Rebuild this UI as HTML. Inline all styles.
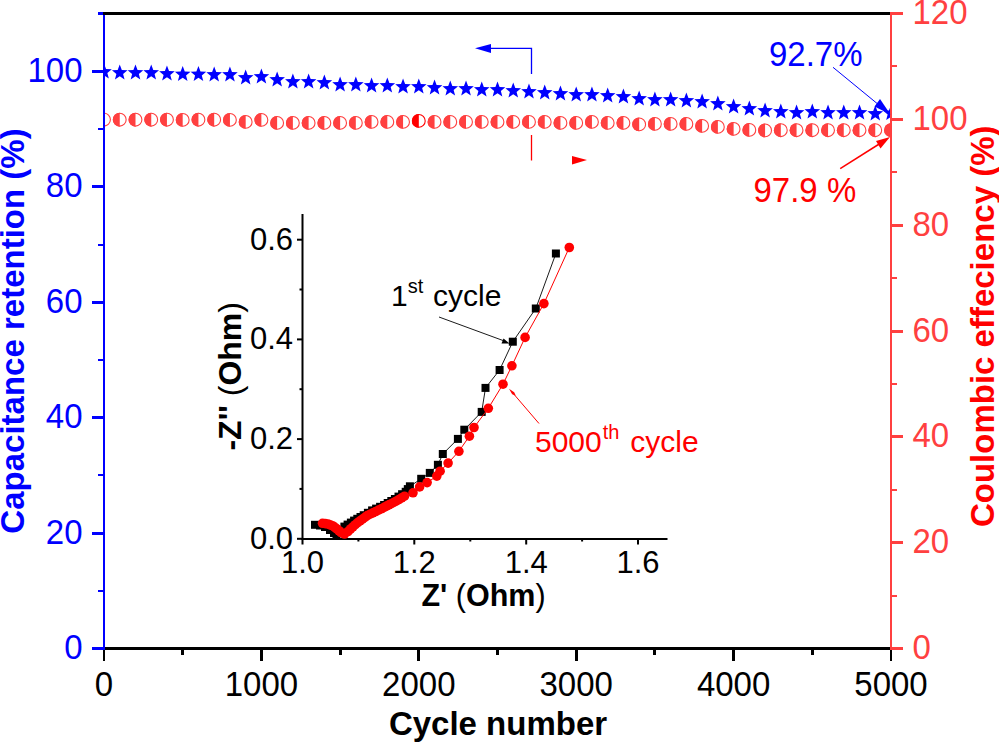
<!DOCTYPE html><html><head><meta charset="utf-8"><style>html,body{margin:0;padding:0;background:#fff;overflow:hidden}svg{display:block}text{font-family:"Liberation Sans",sans-serif}</style></head><body>
<svg width="999" height="742" viewBox="0 0 999 742">
<defs><clipPath id="pc"><rect x="105" y="15" width="785" height="632"/></clipPath>
<clipPath id="lh"><rect x="-8" y="-8" width="8" height="16"/></clipPath>
<polygon id="star" points="0.00,-8.20 2.07,-2.85 7.80,-2.53 3.35,1.09 4.82,6.63 0.00,3.53 -4.82,6.63 -3.35,1.09 -7.80,-2.53 -2.07,-2.85" fill="#0000ff"/>
</defs>
<rect width="999" height="742" fill="#fff"/>
<g clip-path="url(#pc)">
<g transform="translate(104.00,119.60)"><circle r="6.4" fill="#fff" stroke="#ff4040" stroke-width="1.1"/><path d="M0,-6.95 A6.95,6.95 0 0 0 0,6.95 Z" fill="#ff4040"/></g>
<g transform="translate(119.74,119.70)"><circle r="6.4" fill="#fff" stroke="#ff4040" stroke-width="1.1"/><path d="M0,-6.95 A6.95,6.95 0 0 0 0,6.95 Z" fill="#ff4040"/></g>
<g transform="translate(135.48,119.70)"><circle r="6.4" fill="#fff" stroke="#ff4040" stroke-width="1.1"/><path d="M0,-6.95 A6.95,6.95 0 0 0 0,6.95 Z" fill="#ff4040"/></g>
<g transform="translate(151.22,119.70)"><circle r="6.4" fill="#fff" stroke="#ff4040" stroke-width="1.1"/><path d="M0,-6.95 A6.95,6.95 0 0 0 0,6.95 Z" fill="#ff4040"/></g>
<g transform="translate(166.96,119.70)"><circle r="6.4" fill="#fff" stroke="#ff4040" stroke-width="1.1"/><path d="M0,-6.95 A6.95,6.95 0 0 0 0,6.95 Z" fill="#ff4040"/></g>
<g transform="translate(182.70,119.90)"><circle r="6.4" fill="#fff" stroke="#ff4040" stroke-width="1.1"/><path d="M0,-6.95 A6.95,6.95 0 0 0 0,6.95 Z" fill="#ff4040"/></g>
<g transform="translate(198.44,119.70)"><circle r="6.4" fill="#fff" stroke="#ff4040" stroke-width="1.1"/><path d="M0,-6.95 A6.95,6.95 0 0 0 0,6.95 Z" fill="#ff4040"/></g>
<g transform="translate(214.18,119.70)"><circle r="6.4" fill="#fff" stroke="#ff4040" stroke-width="1.1"/><path d="M0,-6.95 A6.95,6.95 0 0 0 0,6.95 Z" fill="#ff4040"/></g>
<g transform="translate(229.92,119.90)"><circle r="6.4" fill="#fff" stroke="#ff4040" stroke-width="1.1"/><path d="M0,-6.95 A6.95,6.95 0 0 0 0,6.95 Z" fill="#ff4040"/></g>
<g transform="translate(245.66,121.90)"><circle r="6.4" fill="#fff" stroke="#ff4040" stroke-width="1.1"/><path d="M0,-6.95 A6.95,6.95 0 0 0 0,6.95 Z" fill="#ff4040"/></g>
<g transform="translate(261.40,119.90)"><circle r="6.4" fill="#fff" stroke="#ff4040" stroke-width="1.1"/><path d="M0,-6.95 A6.95,6.95 0 0 0 0,6.95 Z" fill="#ff4040"/></g>
<g transform="translate(277.14,122.90)"><circle r="6.4" fill="#fff" stroke="#ff4040" stroke-width="1.1"/><path d="M0,-6.95 A6.95,6.95 0 0 0 0,6.95 Z" fill="#ff4040"/></g>
<g transform="translate(292.88,122.90)"><circle r="6.4" fill="#fff" stroke="#ff4040" stroke-width="1.1"/><path d="M0,-6.95 A6.95,6.95 0 0 0 0,6.95 Z" fill="#ff4040"/></g>
<g transform="translate(308.62,122.90)"><circle r="6.4" fill="#fff" stroke="#ff4040" stroke-width="1.1"/><path d="M0,-6.95 A6.95,6.95 0 0 0 0,6.95 Z" fill="#ff4040"/></g>
<g transform="translate(324.36,122.90)"><circle r="6.4" fill="#fff" stroke="#ff4040" stroke-width="1.1"/><path d="M0,-6.95 A6.95,6.95 0 0 0 0,6.95 Z" fill="#ff4040"/></g>
<g transform="translate(340.10,122.90)"><circle r="6.4" fill="#fff" stroke="#ff4040" stroke-width="1.1"/><path d="M0,-6.95 A6.95,6.95 0 0 0 0,6.95 Z" fill="#ff4040"/></g>
<g transform="translate(355.84,122.90)"><circle r="6.4" fill="#fff" stroke="#ff4040" stroke-width="1.1"/><path d="M0,-6.95 A6.95,6.95 0 0 0 0,6.95 Z" fill="#ff4040"/></g>
<g transform="translate(371.58,121.90)"><circle r="6.4" fill="#fff" stroke="#ff4040" stroke-width="1.1"/><path d="M0,-6.95 A6.95,6.95 0 0 0 0,6.95 Z" fill="#ff4040"/></g>
<g transform="translate(387.32,121.90)"><circle r="6.4" fill="#fff" stroke="#ff4040" stroke-width="1.1"/><path d="M0,-6.95 A6.95,6.95 0 0 0 0,6.95 Z" fill="#ff4040"/></g>
<g transform="translate(403.06,121.90)"><circle r="6.4" fill="#fff" stroke="#ff4040" stroke-width="1.1"/><path d="M0,-6.95 A6.95,6.95 0 0 0 0,6.95 Z" fill="#ff4040"/></g>
<g transform="translate(418.80,120.90)"><circle r="6.4" fill="#fff" stroke="#ff0000" stroke-width="1.1"/><path d="M0,-6.95 A6.95,6.95 0 0 0 0,6.95 Z" fill="#ff0000"/></g>
<g transform="translate(434.54,121.90)"><circle r="6.4" fill="#fff" stroke="#ff4040" stroke-width="1.1"/><path d="M0,-6.95 A6.95,6.95 0 0 0 0,6.95 Z" fill="#ff4040"/></g>
<g transform="translate(450.28,121.90)"><circle r="6.4" fill="#fff" stroke="#ff4040" stroke-width="1.1"/><path d="M0,-6.95 A6.95,6.95 0 0 0 0,6.95 Z" fill="#ff4040"/></g>
<g transform="translate(466.02,121.90)"><circle r="6.4" fill="#fff" stroke="#ff4040" stroke-width="1.1"/><path d="M0,-6.95 A6.95,6.95 0 0 0 0,6.95 Z" fill="#ff4040"/></g>
<g transform="translate(481.76,121.90)"><circle r="6.4" fill="#fff" stroke="#ff4040" stroke-width="1.1"/><path d="M0,-6.95 A6.95,6.95 0 0 0 0,6.95 Z" fill="#ff4040"/></g>
<g transform="translate(497.50,121.90)"><circle r="6.4" fill="#fff" stroke="#ff4040" stroke-width="1.1"/><path d="M0,-6.95 A6.95,6.95 0 0 0 0,6.95 Z" fill="#ff4040"/></g>
<g transform="translate(513.24,121.90)"><circle r="6.4" fill="#fff" stroke="#ff4040" stroke-width="1.1"/><path d="M0,-6.95 A6.95,6.95 0 0 0 0,6.95 Z" fill="#ff4040"/></g>
<g transform="translate(528.98,121.90)"><circle r="6.4" fill="#fff" stroke="#ff4040" stroke-width="1.1"/><path d="M0,-6.95 A6.95,6.95 0 0 0 0,6.95 Z" fill="#ff4040"/></g>
<g transform="translate(544.72,121.90)"><circle r="6.4" fill="#fff" stroke="#ff4040" stroke-width="1.1"/><path d="M0,-6.95 A6.95,6.95 0 0 0 0,6.95 Z" fill="#ff4040"/></g>
<g transform="translate(560.46,122.90)"><circle r="6.4" fill="#fff" stroke="#ff4040" stroke-width="1.1"/><path d="M0,-6.95 A6.95,6.95 0 0 0 0,6.95 Z" fill="#ff4040"/></g>
<g transform="translate(576.20,122.90)"><circle r="6.4" fill="#fff" stroke="#ff4040" stroke-width="1.1"/><path d="M0,-6.95 A6.95,6.95 0 0 0 0,6.95 Z" fill="#ff4040"/></g>
<g transform="translate(591.94,121.90)"><circle r="6.4" fill="#fff" stroke="#ff4040" stroke-width="1.1"/><path d="M0,-6.95 A6.95,6.95 0 0 0 0,6.95 Z" fill="#ff4040"/></g>
<g transform="translate(607.68,122.90)"><circle r="6.4" fill="#fff" stroke="#ff4040" stroke-width="1.1"/><path d="M0,-6.95 A6.95,6.95 0 0 0 0,6.95 Z" fill="#ff4040"/></g>
<g transform="translate(623.42,122.90)"><circle r="6.4" fill="#fff" stroke="#ff4040" stroke-width="1.1"/><path d="M0,-6.95 A6.95,6.95 0 0 0 0,6.95 Z" fill="#ff4040"/></g>
<g transform="translate(639.16,124.40)"><circle r="6.4" fill="#fff" stroke="#ff4040" stroke-width="1.1"/><path d="M0,-6.95 A6.95,6.95 0 0 0 0,6.95 Z" fill="#ff4040"/></g>
<g transform="translate(654.90,123.90)"><circle r="6.4" fill="#fff" stroke="#ff4040" stroke-width="1.1"/><path d="M0,-6.95 A6.95,6.95 0 0 0 0,6.95 Z" fill="#ff4040"/></g>
<g transform="translate(670.64,123.90)"><circle r="6.4" fill="#fff" stroke="#ff4040" stroke-width="1.1"/><path d="M0,-6.95 A6.95,6.95 0 0 0 0,6.95 Z" fill="#ff4040"/></g>
<g transform="translate(686.38,123.90)"><circle r="6.4" fill="#fff" stroke="#ff4040" stroke-width="1.1"/><path d="M0,-6.95 A6.95,6.95 0 0 0 0,6.95 Z" fill="#ff4040"/></g>
<g transform="translate(702.12,125.90)"><circle r="6.4" fill="#fff" stroke="#ff4040" stroke-width="1.1"/><path d="M0,-6.95 A6.95,6.95 0 0 0 0,6.95 Z" fill="#ff4040"/></g>
<g transform="translate(717.86,126.90)"><circle r="6.4" fill="#fff" stroke="#ff4040" stroke-width="1.1"/><path d="M0,-6.95 A6.95,6.95 0 0 0 0,6.95 Z" fill="#ff4040"/></g>
<g transform="translate(733.60,128.90)"><circle r="6.4" fill="#fff" stroke="#ff4040" stroke-width="1.1"/><path d="M0,-6.95 A6.95,6.95 0 0 0 0,6.95 Z" fill="#ff4040"/></g>
<g transform="translate(749.34,129.90)"><circle r="6.4" fill="#fff" stroke="#ff4040" stroke-width="1.1"/><path d="M0,-6.95 A6.95,6.95 0 0 0 0,6.95 Z" fill="#ff4040"/></g>
<g transform="translate(765.08,130.40)"><circle r="6.4" fill="#fff" stroke="#ff4040" stroke-width="1.1"/><path d="M0,-6.95 A6.95,6.95 0 0 0 0,6.95 Z" fill="#ff4040"/></g>
<g transform="translate(780.82,130.20)"><circle r="6.4" fill="#fff" stroke="#ff4040" stroke-width="1.1"/><path d="M0,-6.95 A6.95,6.95 0 0 0 0,6.95 Z" fill="#ff4040"/></g>
<g transform="translate(796.56,130.20)"><circle r="6.4" fill="#fff" stroke="#ff4040" stroke-width="1.1"/><path d="M0,-6.95 A6.95,6.95 0 0 0 0,6.95 Z" fill="#ff4040"/></g>
<g transform="translate(812.30,130.20)"><circle r="6.4" fill="#fff" stroke="#ff4040" stroke-width="1.1"/><path d="M0,-6.95 A6.95,6.95 0 0 0 0,6.95 Z" fill="#ff4040"/></g>
<g transform="translate(828.04,130.20)"><circle r="6.4" fill="#fff" stroke="#ff4040" stroke-width="1.1"/><path d="M0,-6.95 A6.95,6.95 0 0 0 0,6.95 Z" fill="#ff4040"/></g>
<g transform="translate(843.78,130.20)"><circle r="6.4" fill="#fff" stroke="#ff4040" stroke-width="1.1"/><path d="M0,-6.95 A6.95,6.95 0 0 0 0,6.95 Z" fill="#ff4040"/></g>
<g transform="translate(859.52,130.20)"><circle r="6.4" fill="#fff" stroke="#ff4040" stroke-width="1.1"/><path d="M0,-6.95 A6.95,6.95 0 0 0 0,6.95 Z" fill="#ff4040"/></g>
<g transform="translate(875.26,130.20)"><circle r="6.4" fill="#fff" stroke="#ff4040" stroke-width="1.1"/><path d="M0,-6.95 A6.95,6.95 0 0 0 0,6.95 Z" fill="#ff4040"/></g>
<g transform="translate(891.00,130.20)"><circle r="6.4" fill="#fff" stroke="#ff4040" stroke-width="1.1"/><path d="M0,-6.95 A6.95,6.95 0 0 0 0,6.95 Z" fill="#ff4040"/></g>
<use href="#star" x="104.00" y="71.80"/>
<use href="#star" x="119.74" y="72.80"/>
<use href="#star" x="135.48" y="72.80"/>
<use href="#star" x="151.22" y="72.80"/>
<use href="#star" x="166.96" y="73.80"/>
<use href="#star" x="182.70" y="74.30"/>
<use href="#star" x="198.44" y="74.30"/>
<use href="#star" x="214.18" y="74.80"/>
<use href="#star" x="229.92" y="74.80"/>
<use href="#star" x="245.66" y="77.80"/>
<use href="#star" x="261.40" y="76.80"/>
<use href="#star" x="277.14" y="79.80"/>
<use href="#star" x="292.88" y="81.80"/>
<use href="#star" x="308.62" y="81.80"/>
<use href="#star" x="324.36" y="82.80"/>
<use href="#star" x="340.10" y="84.80"/>
<use href="#star" x="355.84" y="84.80"/>
<use href="#star" x="371.58" y="85.80"/>
<use href="#star" x="387.32" y="85.80"/>
<use href="#star" x="403.06" y="86.80"/>
<use href="#star" x="418.80" y="86.80"/>
<use href="#star" x="434.54" y="87.80"/>
<use href="#star" x="450.28" y="88.80"/>
<use href="#star" x="466.02" y="88.80"/>
<use href="#star" x="481.76" y="89.80"/>
<use href="#star" x="497.50" y="89.80"/>
<use href="#star" x="513.24" y="90.80"/>
<use href="#star" x="528.98" y="91.80"/>
<use href="#star" x="544.72" y="92.80"/>
<use href="#star" x="560.46" y="93.80"/>
<use href="#star" x="576.20" y="94.80"/>
<use href="#star" x="591.94" y="94.80"/>
<use href="#star" x="607.68" y="95.80"/>
<use href="#star" x="623.42" y="96.80"/>
<use href="#star" x="639.16" y="98.80"/>
<use href="#star" x="654.90" y="99.80"/>
<use href="#star" x="670.64" y="99.80"/>
<use href="#star" x="686.38" y="100.80"/>
<use href="#star" x="702.12" y="101.80"/>
<use href="#star" x="717.86" y="103.80"/>
<use href="#star" x="733.60" y="106.80"/>
<use href="#star" x="749.34" y="108.80"/>
<use href="#star" x="765.08" y="110.80"/>
<use href="#star" x="780.82" y="111.80"/>
<use href="#star" x="796.56" y="112.80"/>
<use href="#star" x="812.30" y="111.80"/>
<use href="#star" x="828.04" y="112.80"/>
<use href="#star" x="843.78" y="112.80"/>
<use href="#star" x="859.52" y="112.80"/>
<use href="#star" x="875.26" y="113.80"/>
<use href="#star" x="891.00" y="113.30"/>
</g>
<rect x="103" y="12" width="788" height="3" fill="#000000"/>
<rect x="103" y="647" width="788" height="3" fill="#000000"/>
<rect x="103" y="15" width="2" height="635" fill="#0000ff"/>
<rect x="890" y="15" width="2" height="635" fill="#ff4040"/>
<rect x="92" y="647" width="13" height="3" fill="#0000ff"/>
<text transform="translate(82.5,659.0) scale(1,1.045)" font-size="33" fill="#0000ff" text-anchor="end">0</text>
<rect x="98" y="590" width="5" height="2" fill="#0000ff"/>
<rect x="92" y="532" width="11" height="3" fill="#0000ff"/>
<text transform="translate(82.5,543.6) scale(1,1.045)" font-size="33" fill="#0000ff" text-anchor="end">20</text>
<rect x="98" y="474" width="5" height="2" fill="#0000ff"/>
<rect x="92" y="416" width="11" height="3" fill="#0000ff"/>
<text transform="translate(82.5,428.2) scale(1,1.045)" font-size="33" fill="#0000ff" text-anchor="end">40</text>
<rect x="98" y="359" width="5" height="2" fill="#0000ff"/>
<rect x="92" y="301" width="11" height="3" fill="#0000ff"/>
<text transform="translate(82.5,312.8) scale(1,1.045)" font-size="33" fill="#0000ff" text-anchor="end">60</text>
<rect x="98" y="244" width="5" height="2" fill="#0000ff"/>
<rect x="92" y="185" width="11" height="3" fill="#0000ff"/>
<text transform="translate(82.5,197.4) scale(1,1.045)" font-size="33" fill="#0000ff" text-anchor="end">80</text>
<rect x="98" y="128" width="5" height="2" fill="#0000ff"/>
<rect x="92" y="70" width="11" height="3" fill="#0000ff"/>
<text transform="translate(82.5,82.0) scale(1,1.045)" font-size="33" fill="#0000ff" text-anchor="end">100</text>
<rect x="98" y="12" width="5" height="3" fill="#0000ff"/>
<rect x="890" y="647" width="13" height="3" fill="#ff4040"/>
<text transform="translate(912.5,659.0) scale(1,1.045)" font-size="33" fill="#ff4040">0</text>
<rect x="891" y="595" width="6" height="2" fill="#ff4040"/>
<rect x="890" y="541" width="13" height="3" fill="#ff4040"/>
<text transform="translate(912.5,553.2) scale(1,1.045)" font-size="33" fill="#ff4040">20</text>
<rect x="891" y="489" width="6" height="2" fill="#ff4040"/>
<rect x="890" y="435" width="13" height="3" fill="#ff4040"/>
<text transform="translate(912.5,447.3) scale(1,1.045)" font-size="33" fill="#ff4040">40</text>
<rect x="891" y="383" width="6" height="2" fill="#ff4040"/>
<rect x="890" y="330" width="13" height="3" fill="#ff4040"/>
<text transform="translate(912.5,341.5) scale(1,1.045)" font-size="33" fill="#ff4040">60</text>
<rect x="891" y="277" width="6" height="2" fill="#ff4040"/>
<rect x="890" y="224" width="13" height="3" fill="#ff4040"/>
<text transform="translate(912.5,235.7) scale(1,1.045)" font-size="33" fill="#ff4040">80</text>
<rect x="891" y="171" width="6" height="2" fill="#ff4040"/>
<rect x="890" y="118" width="13" height="3" fill="#ff4040"/>
<text transform="translate(912.5,129.8) scale(1,1.045)" font-size="33" fill="#ff4040">100</text>
<rect x="891" y="65" width="6" height="2" fill="#ff4040"/>
<rect x="890" y="12" width="13" height="3" fill="#ff4040"/>
<text transform="translate(912.5,24.0) scale(1,1.045)" font-size="33" fill="#ff4040">120</text>
<rect x="103" y="650" width="2" height="11" fill="#000000"/>
<text transform="translate(104.0,695.5) scale(1,1.045)" font-size="33" fill="#000000" text-anchor="middle">0</text>
<rect x="181" y="650" width="3" height="5" fill="#000000"/>
<rect x="260" y="650" width="3" height="11" fill="#000000"/>
<text transform="translate(261.4,695.5) scale(1,1.045)" font-size="33" fill="#000000" text-anchor="middle">1000</text>
<rect x="339" y="650" width="3" height="5" fill="#000000"/>
<rect x="417" y="650" width="3" height="11" fill="#000000"/>
<text transform="translate(418.8,695.5) scale(1,1.045)" font-size="33" fill="#000000" text-anchor="middle">2000</text>
<rect x="496" y="650" width="3" height="5" fill="#000000"/>
<rect x="575" y="650" width="3" height="11" fill="#000000"/>
<text transform="translate(576.2,695.5) scale(1,1.045)" font-size="33" fill="#000000" text-anchor="middle">3000</text>
<rect x="653" y="650" width="3" height="5" fill="#000000"/>
<rect x="732" y="650" width="3" height="11" fill="#000000"/>
<text transform="translate(733.6,695.5) scale(1,1.045)" font-size="33" fill="#000000" text-anchor="middle">4000</text>
<rect x="811" y="650" width="3" height="5" fill="#000000"/>
<rect x="890" y="650" width="2" height="11" fill="#000000"/>
<text transform="translate(891.0,695.5) scale(1,1.045)" font-size="33" fill="#000000" text-anchor="middle">5000</text>
<text x="498" y="735" font-size="33" font-weight="bold" fill="#000000" text-anchor="middle">Cycle number</text>
<text transform="translate(24,331) rotate(-90)" font-size="33" font-weight="bold" fill="#0000ff" text-anchor="middle">Capacitance retention (%)</text>
<text transform="translate(993.5,326.3) rotate(-90)" font-size="33" font-weight="bold" fill="#ff0000" text-anchor="middle">Coulombic effeciency (%)</text>
<text transform="translate(769,66) scale(1,1.045)" font-size="33" fill="#0000ff">92.7%</text>
<line x1="833" y1="67.3" x2="882" y2="107.5" stroke="#0000ff" stroke-width="1"/>
<polygon points="890.5,114.5 874.5,106.5 880,99" fill="#0000ff"/>
<text transform="translate(753.5,202) scale(1,1.045)" font-size="33" fill="#ff0000">97.9 %</text>
<line x1="840.2" y1="168.7" x2="880" y2="143.5" stroke="#ff0000" stroke-width="1.5"/>
<polygon points="890,137 876,141 880.5,148.5" fill="#ff0000"/>
<polyline points="531.5,74 531.5,48.3 490,48.3" fill="none" stroke="#0000ff" stroke-width="1.3"/>
<polygon points="475,48.3 491,44 491,53" fill="#0000ff"/>
<line x1="531.5" y1="135" x2="531.5" y2="160.5" stroke="#ff0000" stroke-width="1.3"/>
<polygon points="587,160 572,156 572,164.5" fill="#ff0000"/>
<rect x="301.5" y="214" width="2" height="326" fill="#000000"/>
<rect x="301.5" y="538" width="366" height="2" fill="#000000"/>
<rect x="297" y="537.8" width="5" height="2" fill="#000000"/>
<text x="293" y="548.8" font-size="31" fill="#000000" text-anchor="end">0.0</text>
<rect x="299.5" y="487.9" width="3" height="2" fill="#000000"/>
<rect x="297" y="438.1" width="5" height="2" fill="#000000"/>
<text x="293" y="449.1" font-size="31" fill="#000000" text-anchor="end">0.2</text>
<rect x="299.5" y="388.2" width="3" height="2" fill="#000000"/>
<rect x="297" y="338.4" width="5" height="2" fill="#000000"/>
<text x="293" y="349.4" font-size="31" fill="#000000" text-anchor="end">0.4</text>
<rect x="299.5" y="288.5" width="3" height="2" fill="#000000"/>
<rect x="297" y="238.7" width="5" height="2" fill="#000000"/>
<text x="293" y="249.7" font-size="31" fill="#000000" text-anchor="end">0.6</text>
<rect x="301.5" y="539" width="2" height="5.5" fill="#000000"/>
<text x="302.5" y="573" font-size="31" fill="#000000" text-anchor="middle">1.0</text>
<rect x="357.4" y="539" width="2" height="2.5" fill="#000000"/>
<rect x="413.3" y="539" width="2" height="5.5" fill="#000000"/>
<text x="414.3" y="573" font-size="31" fill="#000000" text-anchor="middle">1.2</text>
<rect x="469.3" y="539" width="2" height="2.5" fill="#000000"/>
<rect x="525.2" y="539" width="2" height="5.5" fill="#000000"/>
<text x="526.2" y="573" font-size="31" fill="#000000" text-anchor="middle">1.4</text>
<rect x="581.1" y="539" width="2" height="2.5" fill="#000000"/>
<rect x="637.0" y="539" width="2" height="5.5" fill="#000000"/>
<text x="638.0" y="573" font-size="31" fill="#000000" text-anchor="middle">1.6</text>
<text x="483.5" y="606" font-size="30.5" font-weight="bold" fill="#000000" text-anchor="middle">Z' <tspan font-weight="normal">(</tspan>Ohm<tspan font-weight="normal">)</tspan></text>
<text transform="translate(241,376.3) rotate(-90)" font-size="32" font-weight="bold" fill="#000000" text-anchor="middle">-Z'' <tspan font-weight="normal">(</tspan>Ohm<tspan font-weight="normal">)</tspan></text>
<polyline points="315,524.8 320.0,525.5 325.0,527.0 330.0,530.0 334.0,533.0 336.5,534.0 340.5,530.0 344.4,526.6 347.63,524.6 350.87,522.6 354.1,520.6 357.3,518.8 360.5,517.0 363.7,515.2 367.9,512.8 372.1,510.4 376.1,508.6 380.1,506.8 384.1,505.0 387.7,503.0 391.3,501.0 394.9,499.0 398.5,496.6 402.1,494.2 405.7,491.8 407.8,489.05 409.9,486.3 421.2,478.8 429.8,472.9 437.9,464.8 442.8,454 457.9,438.9 464.3,429.7 481.7,411.9 485.5,387.9 499.6,370 512.8,341.7 535.8,308.5 555.9,253.5" fill="none" stroke="#000000" stroke-width="0.9"/>
<rect x="311.0" y="520.8" width="8" height="8" fill="#000000"/>
<rect x="316.0" y="521.5" width="8" height="8" fill="#000000"/>
<rect x="321.0" y="523.0" width="8" height="8" fill="#000000"/>
<rect x="326.0" y="526.0" width="8" height="8" fill="#000000"/>
<rect x="330.0" y="529.0" width="8" height="8" fill="#000000"/>
<rect x="332.5" y="530.0" width="8" height="8" fill="#000000"/>
<rect x="336.5" y="526.0" width="8" height="8" fill="#000000"/>
<rect x="340.4" y="522.6" width="8" height="8" fill="#000000"/>
<rect x="343.6" y="520.6" width="8" height="8" fill="#000000"/>
<rect x="346.9" y="518.6" width="8" height="8" fill="#000000"/>
<rect x="350.1" y="516.6" width="8" height="8" fill="#000000"/>
<rect x="353.3" y="514.8" width="8" height="8" fill="#000000"/>
<rect x="356.5" y="513.0" width="8" height="8" fill="#000000"/>
<rect x="359.7" y="511.2" width="8" height="8" fill="#000000"/>
<rect x="363.9" y="508.8" width="8" height="8" fill="#000000"/>
<rect x="368.1" y="506.4" width="8" height="8" fill="#000000"/>
<rect x="372.1" y="504.6" width="8" height="8" fill="#000000"/>
<rect x="376.1" y="502.8" width="8" height="8" fill="#000000"/>
<rect x="380.1" y="501.0" width="8" height="8" fill="#000000"/>
<rect x="383.7" y="499.0" width="8" height="8" fill="#000000"/>
<rect x="387.3" y="497.0" width="8" height="8" fill="#000000"/>
<rect x="390.9" y="495.0" width="8" height="8" fill="#000000"/>
<rect x="394.5" y="492.6" width="8" height="8" fill="#000000"/>
<rect x="398.1" y="490.2" width="8" height="8" fill="#000000"/>
<rect x="401.7" y="487.8" width="8" height="8" fill="#000000"/>
<rect x="403.8" y="485.1" width="8" height="8" fill="#000000"/>
<rect x="405.9" y="482.3" width="8" height="8" fill="#000000"/>
<rect x="417.2" y="474.8" width="8" height="8" fill="#000000"/>
<rect x="425.8" y="468.9" width="8" height="8" fill="#000000"/>
<rect x="433.9" y="460.8" width="8" height="8" fill="#000000"/>
<rect x="438.8" y="450.0" width="8" height="8" fill="#000000"/>
<rect x="453.9" y="434.9" width="8" height="8" fill="#000000"/>
<rect x="460.3" y="425.7" width="8" height="8" fill="#000000"/>
<rect x="477.7" y="407.9" width="8" height="8" fill="#000000"/>
<rect x="481.5" y="383.9" width="8" height="8" fill="#000000"/>
<rect x="495.6" y="366.0" width="8" height="8" fill="#000000"/>
<rect x="508.8" y="337.7" width="8" height="8" fill="#000000"/>
<rect x="531.8" y="304.5" width="8" height="8" fill="#000000"/>
<rect x="551.9" y="249.5" width="8" height="8" fill="#000000"/>
<polyline points="322.5,523.3 325.25,523.65 328.0,524.0 330.5,525.0 333.0,526.0 335.0,527.5 337.0,529.0 339.0,530.75 341.0,532.5 344.5,534.0 348.0,531.5 350.5,529.0 352.9,526.87 355.3,524.73 357.7,522.6 360.1,520.85 362.5,519.1 364.9,517.35 367.3,515.6 370.1,514.23 372.9,512.87 375.7,511.5 378.5,510.13 381.3,508.77 384.1,507.4 386.5,506.16 388.9,504.92 391.3,503.68 393.7,502.44 396.1,501.2 398.9,499.53 401.7,497.87 404.5,496.2 413,492.8 419.6,486.9 427.1,482.6 436.8,476.1 440.1,471.2 448.1,463.1 458.9,451.3 469.4,436.2 474,427.5 488.3,408.3 503,384.2 511.9,365.8 525.1,337.4 543.9,303.6 569.3,247.5" fill="none" stroke="#ff0000" stroke-width="1"/>
<circle cx="322.5" cy="523.3" r="4.8" fill="#ff0000"/>
<circle cx="325.25" cy="523.65" r="4.8" fill="#ff0000"/>
<circle cx="328.0" cy="524.0" r="4.8" fill="#ff0000"/>
<circle cx="330.5" cy="525.0" r="4.8" fill="#ff0000"/>
<circle cx="333.0" cy="526.0" r="4.8" fill="#ff0000"/>
<circle cx="335.0" cy="527.5" r="4.8" fill="#ff0000"/>
<circle cx="337.0" cy="529.0" r="4.8" fill="#ff0000"/>
<circle cx="339.0" cy="530.75" r="4.8" fill="#ff0000"/>
<circle cx="341.0" cy="532.5" r="4.8" fill="#ff0000"/>
<circle cx="344.5" cy="534.0" r="4.8" fill="#ff0000"/>
<circle cx="348.0" cy="531.5" r="4.8" fill="#ff0000"/>
<circle cx="350.5" cy="529.0" r="4.8" fill="#ff0000"/>
<circle cx="352.9" cy="526.87" r="4.8" fill="#ff0000"/>
<circle cx="355.3" cy="524.73" r="4.8" fill="#ff0000"/>
<circle cx="357.7" cy="522.6" r="4.8" fill="#ff0000"/>
<circle cx="360.1" cy="520.85" r="4.8" fill="#ff0000"/>
<circle cx="362.5" cy="519.1" r="4.8" fill="#ff0000"/>
<circle cx="364.9" cy="517.35" r="4.8" fill="#ff0000"/>
<circle cx="367.3" cy="515.6" r="4.8" fill="#ff0000"/>
<circle cx="370.1" cy="514.23" r="4.8" fill="#ff0000"/>
<circle cx="372.9" cy="512.87" r="4.8" fill="#ff0000"/>
<circle cx="375.7" cy="511.5" r="4.8" fill="#ff0000"/>
<circle cx="378.5" cy="510.13" r="4.8" fill="#ff0000"/>
<circle cx="381.3" cy="508.77" r="4.8" fill="#ff0000"/>
<circle cx="384.1" cy="507.4" r="4.8" fill="#ff0000"/>
<circle cx="386.5" cy="506.16" r="4.8" fill="#ff0000"/>
<circle cx="388.9" cy="504.92" r="4.8" fill="#ff0000"/>
<circle cx="391.3" cy="503.68" r="4.8" fill="#ff0000"/>
<circle cx="393.7" cy="502.44" r="4.8" fill="#ff0000"/>
<circle cx="396.1" cy="501.2" r="4.8" fill="#ff0000"/>
<circle cx="398.9" cy="499.53" r="4.8" fill="#ff0000"/>
<circle cx="401.7" cy="497.87" r="4.8" fill="#ff0000"/>
<circle cx="404.5" cy="496.2" r="4.8" fill="#ff0000"/>
<circle cx="413" cy="492.8" r="4.8" fill="#ff0000"/>
<circle cx="419.6" cy="486.9" r="4.8" fill="#ff0000"/>
<circle cx="427.1" cy="482.6" r="4.8" fill="#ff0000"/>
<circle cx="436.8" cy="476.1" r="4.8" fill="#ff0000"/>
<circle cx="440.1" cy="471.2" r="4.8" fill="#ff0000"/>
<circle cx="448.1" cy="463.1" r="4.8" fill="#ff0000"/>
<circle cx="458.9" cy="451.3" r="4.8" fill="#ff0000"/>
<circle cx="469.4" cy="436.2" r="4.8" fill="#ff0000"/>
<circle cx="474" cy="427.5" r="4.8" fill="#ff0000"/>
<circle cx="488.3" cy="408.3" r="4.8" fill="#ff0000"/>
<circle cx="503" cy="384.2" r="4.8" fill="#ff0000"/>
<circle cx="511.9" cy="365.8" r="4.8" fill="#ff0000"/>
<circle cx="525.1" cy="337.4" r="4.8" fill="#ff0000"/>
<circle cx="543.9" cy="303.6" r="4.8" fill="#ff0000"/>
<circle cx="569.3" cy="247.5" r="4.8" fill="#ff0000"/>
<text x="391" y="305.7" font-size="30" fill="#000000">1<tspan font-size="20" dy="-12.5">st</tspan><tspan dx="1.5" dy="12.5"> cycle</tspan></text>
<line x1="439" y1="317" x2="503" y2="340.5" stroke="#000000" stroke-width="0.9"/>
<polygon points="509.5,343.5 501.5,343.5 503.5,338.5" fill="#000000"/>
<text x="535" y="451.5" font-size="30" fill="#ff0000">5000<tspan font-size="20" dx="1" dy="-12.5">th</tspan><tspan dx="2.5" dy="12.5"> cycle</tspan></text>
<line x1="539" y1="423.5" x2="512" y2="392" stroke="#ff0000" stroke-width="1"/>
<polygon points="509,388.8 514.2,392.2 515.8,395.8 512.2,394.2" fill="#ff0000"/>
</svg></body></html>
